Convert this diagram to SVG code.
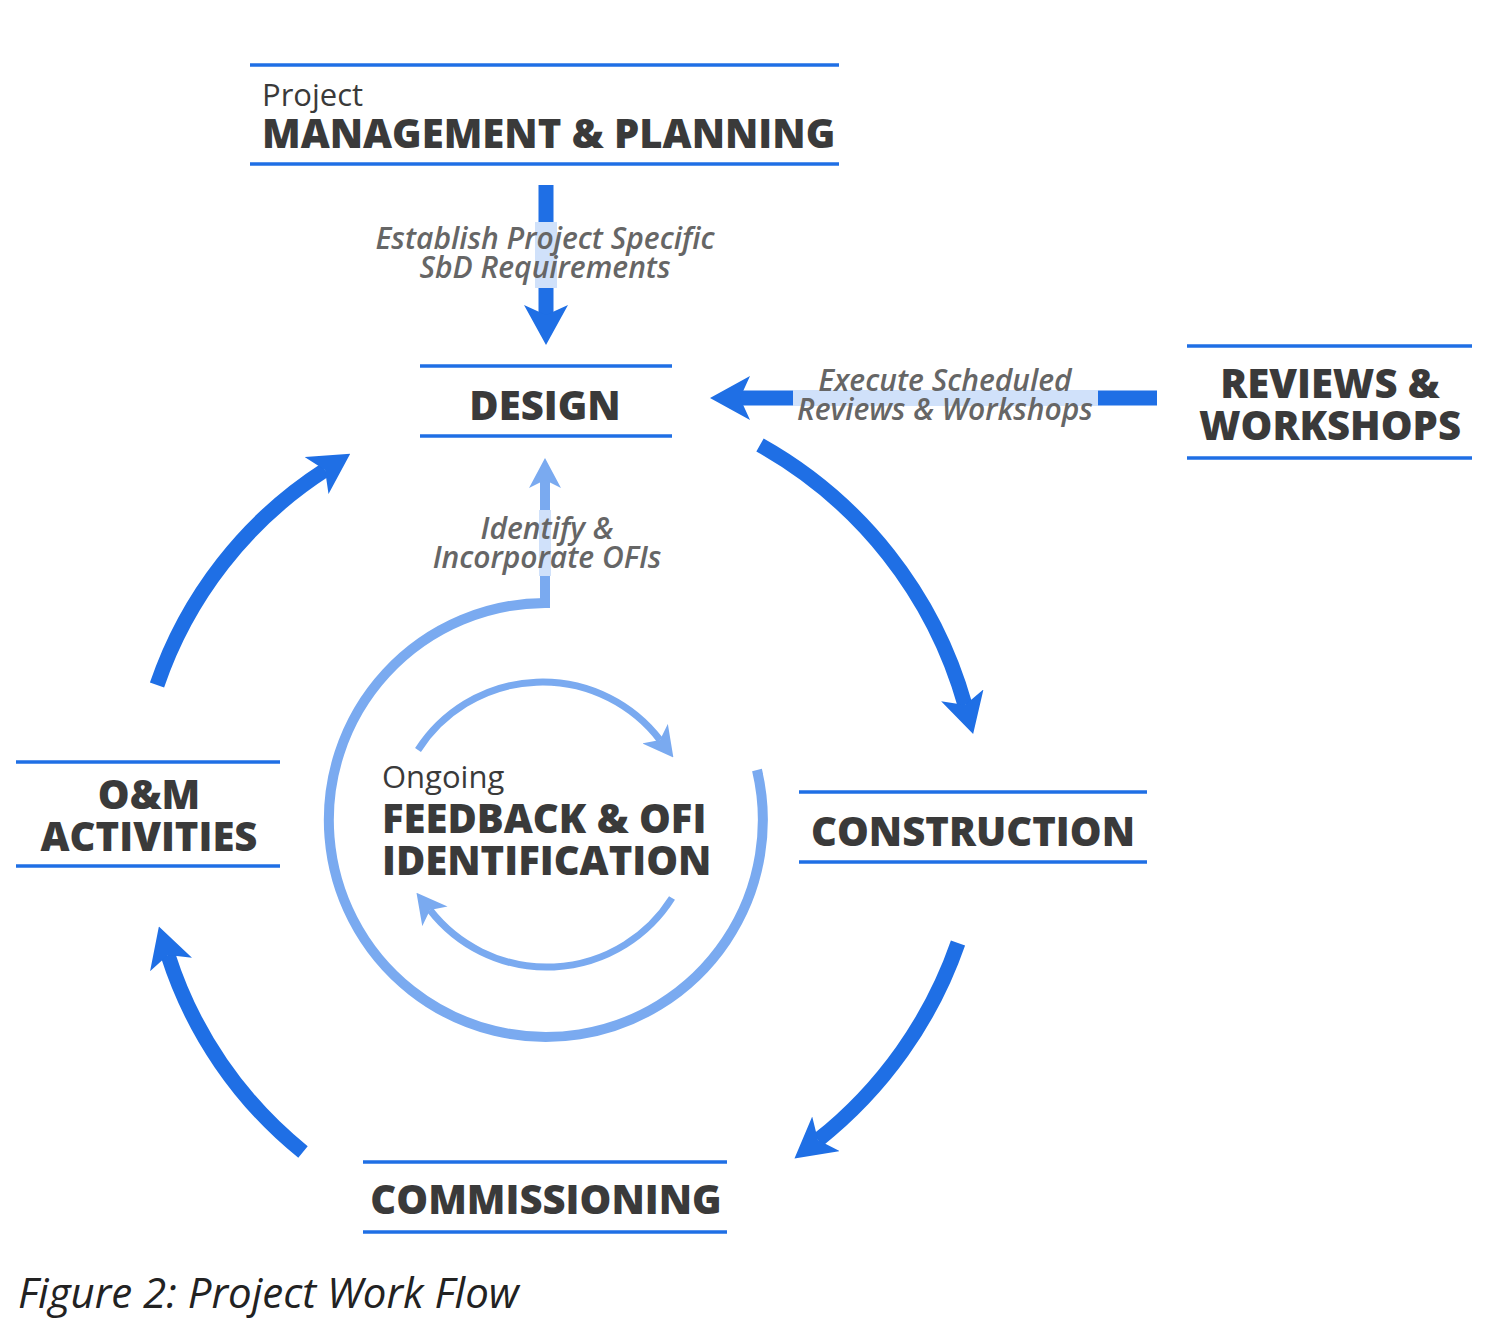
<svg xmlns="http://www.w3.org/2000/svg" width="1496" height="1343" viewBox="0 0 1496 1343">
<style>
.rule{stroke:#1f6fe5;stroke-width:3.5}
.t{font-family:"Open Sans",sans-serif;font-weight:800;fill:#3a3a3a;font-size:40px}
.s{font-family:"Open Sans",sans-serif;fill:#3a3a3a;font-size:31px}
.lab{font-family:"Open Sans",sans-serif;font-style:italic;font-weight:600;fill:#666;font-size:30px;text-anchor:middle}
.dk{fill:none;stroke:#1f6fe5;stroke-width:15}
.lt{fill:none;stroke:#7aaaf0;stroke-width:10}
.ls{fill:none;stroke:#7aaaf0;stroke-width:7}
</style>
<defs>
<marker id="ad" markerUnits="userSpaceOnUse" markerWidth="40" markerHeight="44" refX="10" refY="22" orient="auto" viewBox="0 0 40 44"><path d="M0 0 L40 22 L0 44 L10 22 Z" fill="#1f6fe5"/></marker>
<marker id="al" markerUnits="userSpaceOnUse" markerWidth="30" markerHeight="32" refX="8" refY="16" orient="auto" viewBox="0 0 30 32"><path d="M0 0 L30 16 L0 32 L8 16 Z" fill="#7aaaf0"/></marker>
</defs>
<rect width="1496" height="1343" fill="#fff"/>
<g id="connectors">
<path class="dk" d="M546 185 V315" marker-end="url(#ad)"/>
<rect x="535" y="222" width="22" height="66" fill="#d0e1fa"/>
<path class="dk" d="M1157 398 H740" marker-end="url(#ad)"/>
<rect x="793" y="390" width="305" height="16" fill="#d0e1fa"/>
<path class="dk" d="M760 445 A432 432 0 0 1 965 705" marker-end="url(#ad)"/>
<path class="dk" d="M958 943 A432 432 0 0 1 818 1140" marker-end="url(#ad)"/>
<path class="dk" d="M303 1152 A415 415 0 0 1 168 955" marker-end="url(#ad)"/>
<path class="dk" d="M157 685 A415 415 0 0 1 325 470" marker-end="url(#ad)"/>
<path class="lt" d="M545 603 A217 217 0 1 0 757 770"/>
<path class="lt" d="M545 608 V480" marker-end="url(#al)"/>
<rect x="539" y="510" width="12" height="66" fill="#d0e1fa"/>
<path class="ls" d="M418 750 A148 148 0 0 1 660 740" marker-end="url(#al)"/>
<path class="ls" d="M672 898 A148 148 0 0 1 430 910" marker-end="url(#al)"/>
</g>
<g id="labels">
<text class="lab" x="545" y="249">Establish Project Specific</text>
<text class="lab" x="545" y="278">SbD Requirements</text>
<text class="lab" x="945" y="391">Execute Scheduled</text>
<text class="lab" x="945" y="420">Reviews &amp; Workshops</text>
<text class="lab" x="547" y="539">Identify &amp;</text>
<text class="lab" x="547" y="568">Incorporate OFIs</text>
</g>
<g id="pm">
<line class="rule" x1="250" y1="65" x2="839" y2="65"/><line class="rule" x1="250" y1="164" x2="839" y2="164"/>
<text class="s" x="262" y="106">Project</text>
<text class="t" x="262" y="148">MANAGEMENT &amp; PLANNING</text>
</g>
<g id="design">
<line class="rule" x1="420" y1="366" x2="672" y2="366"/><line class="rule" x1="420" y1="436" x2="672" y2="436"/>
<text class="t" x="545" y="420" text-anchor="middle">DESIGN</text>
</g>
<g id="reviews">
<line class="rule" x1="1187" y1="346" x2="1472" y2="346"/><line class="rule" x1="1187" y1="458" x2="1472" y2="458"/>
<text class="t" x="1330" y="398" text-anchor="middle">REVIEWS &amp;</text>
<text class="t" x="1330" y="440" text-anchor="middle">WORKSHOPS</text>
</g>
<g id="construction">
<line class="rule" x1="799" y1="792" x2="1147" y2="792"/><line class="rule" x1="799" y1="862" x2="1147" y2="862"/>
<text class="t" x="973" y="846" text-anchor="middle">CONSTRUCTION</text>
</g>
<g id="commissioning">
<line class="rule" x1="363" y1="1162" x2="727" y2="1162"/><line class="rule" x1="363" y1="1232" x2="727" y2="1232"/>
<text class="t" x="546" y="1214" text-anchor="middle">COMMISSIONING</text>
</g>
<g id="om">
<line class="rule" x1="16" y1="762" x2="280" y2="762"/><line class="rule" x1="16" y1="866" x2="280" y2="866"/>
<text class="t" x="149" y="809" text-anchor="middle">O&amp;M</text>
<text class="t" x="149" y="851" text-anchor="middle">ACTIVITIES</text>
</g>
<g id="feedback">
<text class="s" x="382" y="788">Ongoing</text>
<text class="t" x="382" y="833">FEEDBACK &amp; OFI</text>
<text class="t" x="382" y="875">IDENTIFICATION</text>
</g>
<text x="18" y="1308" style="font-family:'Open Sans',sans-serif;font-style:italic;font-size:42px;fill:#222">Figure 2: Project Work Flow</text>
</svg>
